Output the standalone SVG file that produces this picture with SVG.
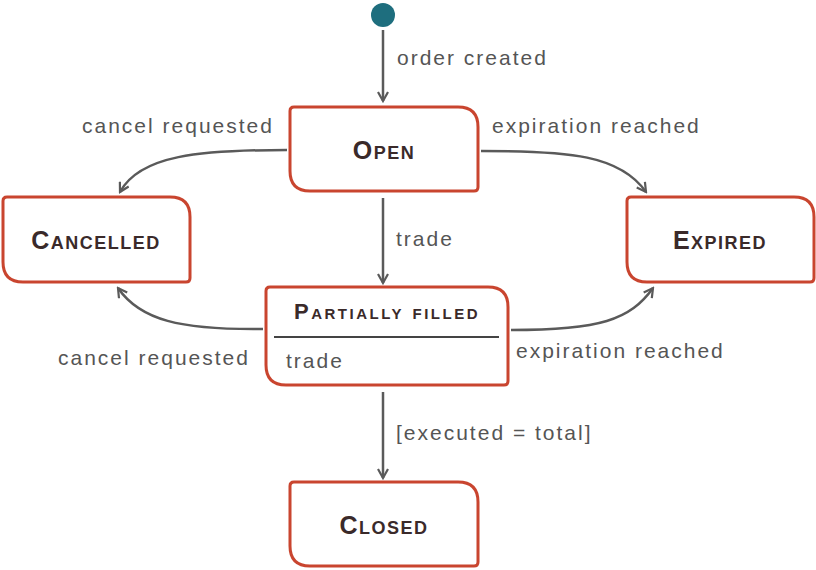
<svg xmlns="http://www.w3.org/2000/svg" width="816" height="570" viewBox="0 0 816 570">
<style>
.n{fill:#fff;stroke:#c9452f;stroke-width:3}
.t{font-family:"Liberation Sans",sans-serif;font-weight:bold;font-variant:small-caps;font-size:25px;letter-spacing:1.5px;fill:#3a2a2a;text-anchor:middle}
.l{font-family:"Liberation Sans",sans-serif;font-size:21px;letter-spacing:2px;fill:#555}
.c{fill:none;stroke:#5a5a5a;stroke-width:2.5}
</style>
<defs><marker id="a" viewBox="0 0 12 12" refX="10" refY="6" markerWidth="12" markerHeight="12" markerUnits="userSpaceOnUse" orient="auto"><path d="M1,1 L10,6 L1,11" fill="none" stroke="#5a5a5a" stroke-width="2.2"/></marker></defs>
<g id="connectors">
<path class="c" d="M383,30 V101" marker-end="url(#a)"/>
<path class="c" d="M287,150 C200,150 140,155 120,192" marker-end="url(#a)"/>
<path class="c" d="M481,151 C570,151 620,155 646,192" marker-end="url(#a)"/>
<path class="c" d="M383,198 V283" marker-end="url(#a)"/>
<path class="c" d="M263,329 C180,330 140,320 118,288" marker-end="url(#a)"/>
<path class="c" d="M511,330 C600,330 630,320 653,288" marker-end="url(#a)"/>
<path class="c" d="M383,392 V478" marker-end="url(#a)"/>
<text class="l" x="397" y="65">order created</text>
<text class="l" x="82" y="133">cancel requested</text>
<text class="l" x="492" y="133">expiration reached</text>
<text class="l" x="396" y="246">trade</text>
<text class="l" x="58" y="365">cancel requested</text>
<text class="l" x="516" y="358">expiration reached</text>
<text class="l" x="396" y="440">[executed = total]</text>
</g>
<g id="start"><circle cx="383" cy="15" r="12" fill="#1e6e7e"/></g>
<g id="open"><path class="n" d="M294,107 H458 Q478,107 478,127 V187 Q478,191 474,191 H310 Q290,191 290,171 V111 Q290,107 294,107 Z"/><text class="t" x="384" y="159">Open</text></g>
<g id="cancelled"><path class="n" d="M7,197 H170 Q190,197 190,217 V278 Q190,282 186,282 H23 Q3,282 3,262 V201 Q3,197 7,197 Z"/><text class="t" x="96" y="249">Cancelled</text></g>
<g id="expired"><path class="n" d="M631,197 H794 Q814,197 814,217 V278 Q814,282 810,282 H647 Q627,282 627,262 V201 Q627,197 631,197 Z"/><text class="t" x="720" y="249">Expired</text></g>
<g id="partially"><path class="n" d="M270,287 H488 Q508,287 508,307 V381 Q508,385 504,385 H286 Q266,385 266,365 V291 Q266,287 270,287 Z"/><text class="t" x="387" y="319" style="font-size:22px;letter-spacing:2.5px">Partially filled</text><line x1="274" y1="337" x2="499" y2="337" stroke="#444" stroke-width="2"/><text class="l" x="286" y="368">trade</text></g>
<g id="closed"><path class="n" d="M294,482 H458 Q478,482 478,502 V562 Q478,566 474,566 H310 Q290,566 290,546 V486 Q290,482 294,482 Z"/><text class="t" x="384" y="534">Closed</text></g>
</svg>
